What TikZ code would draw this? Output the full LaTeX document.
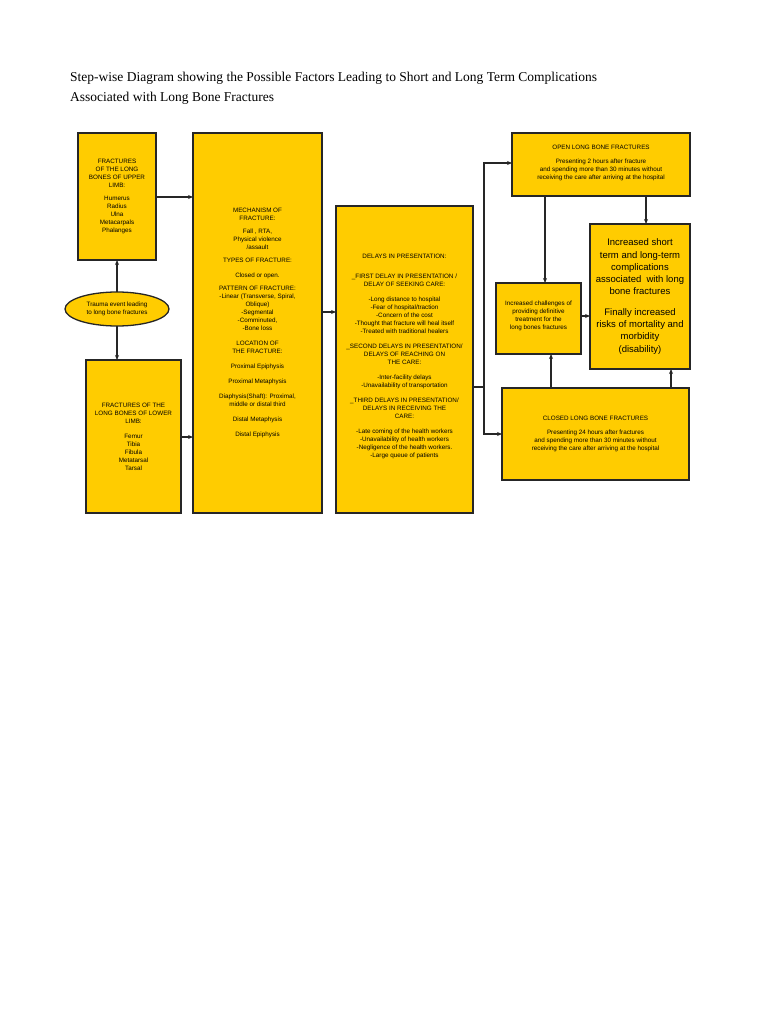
\documentclass[tikz,border=0pt]{standalone}
\usepackage{fontspec}
\setmainfont{Liberation Sans}
\newfontfamily\titlefont{Liberation Serif}
\usetikzlibrary{arrows.meta}
\definecolor{boxy}{HTML}{FFCC00}
\begin{document}
\begin{tikzpicture}[x=1pt,y=-1pt,
  bx/.style={draw=black!85,line width=1.3pt,fill=boxy},
  tx/.style={align=center,font=\fontsize{6.3}{8}\selectfont,inner sep=0pt},
  ar/.style={-{Stealth[length=5pt,width=4pt]},line width=1.2pt,black!85}]
\useasboundingbox (0,0) rectangle (768,1024);
\node[anchor=north west,align=left,font=\titlefont\fontsize{13.5}{20}\selectfont,inner sep=0pt] (title) at (70,72) {Step-wise Diagram showing the Possible Factors Leading to Short and Long Term Complications\\Associated with Long Bone Fractures};
\draw[bx] (78,133) rectangle (156,260); \node[tx] (upper) at (117,196.5) {FRACTURES\\OF THE LONG\\BONES OF UPPER\\LIMB:\\[5pt]Humerus\\Radius\\Ulna\\Metacarpals\\Phalanges};
\draw[bx] (193,133) rectangle (322,513); \node[tx] (mech) at (257.5,323) {MECHANISM OF\\FRACTURE:\\[5pt]Fall , RTA,\\Physical violence\\/assault\\[5pt]TYPES OF FRACTURE:\\[7pt]Closed or open.\\[5pt]PATTERN OF FRACTURE:\\-Linear (Transverse, Spiral,\\Oblique)\\-Segmental\\-Comminuted,\\-Bone loss\\[7pt]LOCATION OF\\THE FRACTURE:\\[7pt]Proximal Epiphysis\\[7pt]Proximal Metaphysis\\[7pt]Diaphysis(Shaft): Proximal,\\middle or distal third\\[7pt]Distal Metaphysis\\[7pt]Distal Epiphysis};
\draw[bx] (336,206) rectangle (473,513); \node[tx] (delay) at (404.5,356) {DELAYS IN PRESENTATION:\\[12pt]\_FIRST DELAY IN PRESENTATION /\\DELAY OF SEEKING CARE:\\[7pt]-Long distance to hospital\\-Fear of hospital/traction\\-Concern of the cost\\-Thought that fracture will heal itself\\-Treated with traditional healers\\[7pt]\_SECOND DELAYS IN PRESENTATION/\\DELAYS OF REACHING ON\\THE CARE:\\[7pt]-Inter-facility delays\\-Unavailability of transportation\\[7pt]\_THIRD DELAYS IN PRESENTATION/\\DELAYS IN RECEIVING THE\\CARE:\\[7pt]-Late coming of the health workers\\-Unavailability of health workers\\-Negligence of the health workers.\\-Large queue of patients};
\draw[bx] (86,360) rectangle (181,513); \node[tx] (lower) at (133.5,437) {FRACTURES OF THE\\LONG BONES OF LOWER\\LIMB:\\[7pt]Femur\\Tibia\\Fibula\\Metatarsal\\Tarsal};
\draw[bx] (117,309) ellipse (52 and 17); \node[tx] (trauma) at (117,309) {Trauma event leading\\to long bone fractures};
\draw[bx] (512,133) rectangle (690,196); \node[tx] (open) at (601,163) {OPEN LONG BONE FRACTURES\\[6pt]Presenting 2 hours after fracture\\and spending more than 30 minutes without\\receiving the care after arriving at the hospital};
\draw[bx] (590,224) rectangle (690,369); \node[tx,font=\fontsize{9.5}{12.3}\selectfont] (res) at (640,296.5) {Increased short\\term and long-term\\complications\\associated\ \ with long\\bone fractures\\[8pt]Finally increased\\risks of mortality and\\morbidity\\(disability)};
\draw[bx] (496,283) rectangle (581,354); \node[tx] (chal) at (538.5,316) {Increased challenges of\\providing definitive\\treatment for the\\long bones fractures};
\draw[bx] (502,388) rectangle (689,480); \node[tx] (closed) at (595.5,434) {CLOSED LONG BONE FRACTURES\\[6pt]Presenting 24 hours after fractures\\and spending more than 30 minutes without\\receiving the care after arriving at the hospital};
\coordinate (br) at (484,387);
\draw[ar] (156,197) -- (193,197);
\draw[ar] (181,437) -- (193,437);
\draw[ar] (322,312) -- (336,312);
\draw[ar] (117,292) -- (117,260);
\draw[ar] (117,326) -- (117,360);
\draw[line width=1.2pt,black!85] (473,387) -- (br);
\draw[ar] (br) |- (512,163);
\draw[ar] (br) |- (502,434);
\draw[ar] (545,196) -- (545,283);
\draw[ar] (646,196) -- (646,224);
\draw[ar] (581,316) -- (590,316);
\draw[ar] (551,388) -- (551,354);
\draw[ar] (671,388) -- (671,369);
\end{tikzpicture}
\end{document}
